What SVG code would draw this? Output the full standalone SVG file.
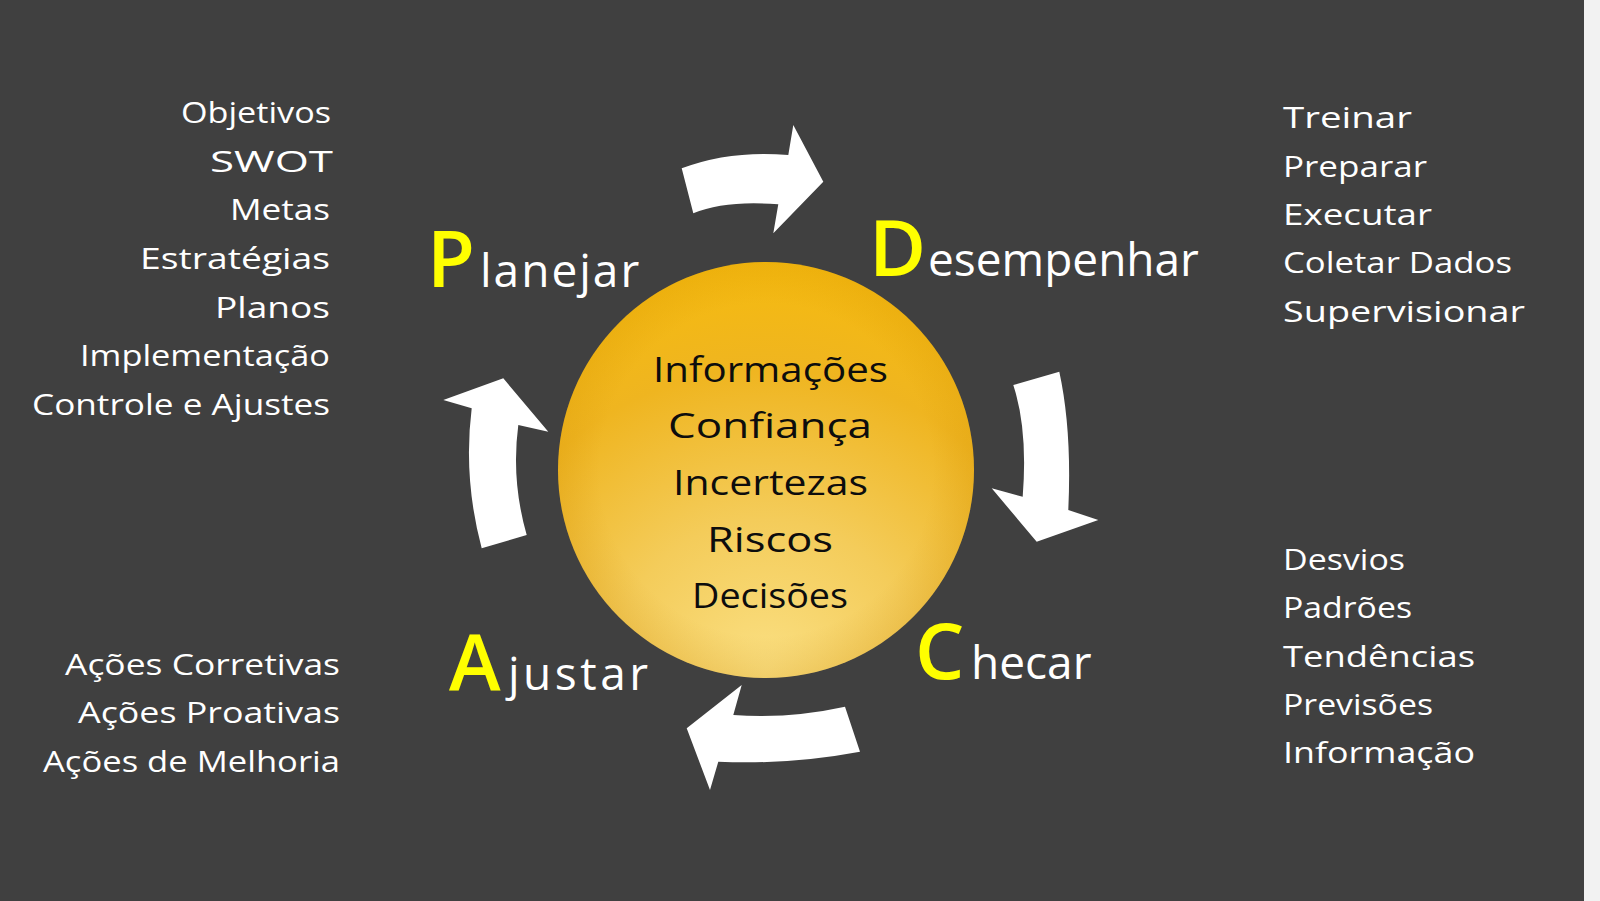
<svg xmlns="http://www.w3.org/2000/svg" width="1600" height="901" viewBox="0 0 1600 901">
<style>
.t{font-family:"Open Sans","DejaVu Sans",sans-serif;fill:#ffffff;font-size:30px}
.c{font-family:"Open Sans","DejaVu Sans",sans-serif;fill:#0d0d0d;font-size:35px}
.lab{font-family:"Open Sans","DejaVu Sans",sans-serif;fill:#ffffff;font-size:46px}
.ini{fill:#ffff00;font-size:78px;font-weight:600}
.arr{fill:#ffffff}
</style>
<defs>
<radialGradient id="g" cx="0.5" cy="1" r="1.05" fx="0.5" fy="0.98">
<stop offset="0" stop-color="#fadf82"/>
<stop offset="0.35" stop-color="#f4cc5a"/>
<stop offset="0.7" stop-color="#efb520"/>
<stop offset="1" stop-color="#f7bc0c"/>
</radialGradient>
<radialGradient id="rim" cx="0.5" cy="0.5" r="0.5">
<stop offset="0.8" stop-color="#c88400" stop-opacity="0"/>
<stop offset="1" stop-color="#c88400" stop-opacity="0.18"/>
</radialGradient>
</defs>
<rect x="0" y="0" width="1600" height="901" fill="#f2f2f2"/>
<rect x="0" y="0" width="1584" height="901" fill="#404040"/>

<g id="connectors">
<path class="arr" d="M681.7,168.3 Q730,150 788.3,155 L793.3,125 L823.3,181.7 L773.3,233.3 L778.3,204.3 Q725,200 693.3,213.3 Z"/>
<path class="arr" d="M1013.3,385 L1059.3,371.7 Q1072,430 1068.3,510 L1098.3,520 L1036.7,541.7 L991.7,488.3 L1022.7,496.7 Q1028,430 1013.3,385 Z"/>
<path class="arr" d="M845,706.7 L860,751.7 Q789,765 718.3,761.7 L710,790 L686.7,728.3 L741.7,685 L733.3,715 Q789,719 845,706.7 Z"/>
<path class="arr" d="M481.7,548.3 L526.7,535 Q511,480 518.3,425 L548.3,431.7 L503.3,378.3 L443.3,400 L471.7,408.3 Q463,478 481.7,548.3 Z"/>
</g>

<g id="center">
<circle cx="766" cy="470" r="208" fill="url(#g)"/>
<circle cx="766" cy="470" r="208" fill="url(#rim)"/>
<text class="c" x="653" y="382" textLength="235" lengthAdjust="spacingAndGlyphs">Informações</text>
<text class="c" x="668" y="438" textLength="204" lengthAdjust="spacingAndGlyphs">Confiança</text>
<text class="c" x="673" y="495" textLength="195" lengthAdjust="spacingAndGlyphs">Incertezas</text>
<text class="c" x="707" y="552" textLength="126" lengthAdjust="spacingAndGlyphs">Riscos</text>
<text class="c" x="692" y="608" textLength="156" lengthAdjust="spacingAndGlyphs">Decisões</text>
</g>

<g id="planejar">
<text class="lab" x="427" y="287"><tspan class="ini">P</tspan><tspan x="480" letter-spacing="2">lanejar</tspan></text>
</g>
<g id="desempenhar">
<text class="lab" x="869" y="276"><tspan class="ini">D</tspan><tspan x="928">esempenhar</tspan></text>
</g>
<g id="checar">
<text class="lab" x="915" y="679"><tspan class="ini">C</tspan><tspan x="971">hecar</tspan></text>
</g>
<g id="ajustar">
<text class="lab" x="449" y="690"><tspan class="ini">A</tspan><tspan x="508" letter-spacing="3.5">justar</tspan></text>
</g>

<g id="planejar-list">
<text class="t" x="181" y="123" textLength="150" lengthAdjust="spacingAndGlyphs">Objetivos</text>
<text class="t" x="210" y="172" textLength="123" lengthAdjust="spacingAndGlyphs">SWOT</text>
<text class="t" x="230" y="220" textLength="100" lengthAdjust="spacingAndGlyphs">Metas</text>
<text class="t" x="140" y="269" textLength="190" lengthAdjust="spacingAndGlyphs">Estratégias</text>
<text class="t" x="215" y="318" textLength="115" lengthAdjust="spacingAndGlyphs">Planos</text>
<text class="t" x="80" y="366" textLength="250" lengthAdjust="spacingAndGlyphs">Implementação</text>
<text class="t" x="32" y="415" textLength="298" lengthAdjust="spacingAndGlyphs">Controle e Ajustes</text>
</g>

<g id="desempenhar-list">
<text class="t" x="1283" y="128" textLength="129" lengthAdjust="spacingAndGlyphs">Treinar</text>
<text class="t" x="1283" y="177" textLength="144" lengthAdjust="spacingAndGlyphs">Preparar</text>
<text class="t" x="1283" y="225" textLength="149" lengthAdjust="spacingAndGlyphs">Executar</text>
<text class="t" x="1283" y="273" textLength="229" lengthAdjust="spacingAndGlyphs">Coletar Dados</text>
<text class="t" x="1283" y="322" textLength="242" lengthAdjust="spacingAndGlyphs">Supervisionar</text>
</g>

<g id="checar-list">
<text class="t" x="1283" y="570" textLength="122" lengthAdjust="spacingAndGlyphs">Desvios</text>
<text class="t" x="1283" y="618" textLength="129" lengthAdjust="spacingAndGlyphs">Padrões</text>
<text class="t" x="1283" y="667" textLength="192" lengthAdjust="spacingAndGlyphs">Tendências</text>
<text class="t" x="1283" y="715" textLength="150" lengthAdjust="spacingAndGlyphs">Previsões</text>
<text class="t" x="1283" y="763" textLength="192" lengthAdjust="spacingAndGlyphs">Informação</text>
</g>

<g id="ajustar-list">
<text class="t" x="65" y="675" textLength="275" lengthAdjust="spacingAndGlyphs">Ações Corretivas</text>
<text class="t" x="78" y="723" textLength="262" lengthAdjust="spacingAndGlyphs">Ações Proativas</text>
<text class="t" x="43" y="772" textLength="297" lengthAdjust="spacingAndGlyphs">Ações de Melhoria</text>
</g>
</svg>
